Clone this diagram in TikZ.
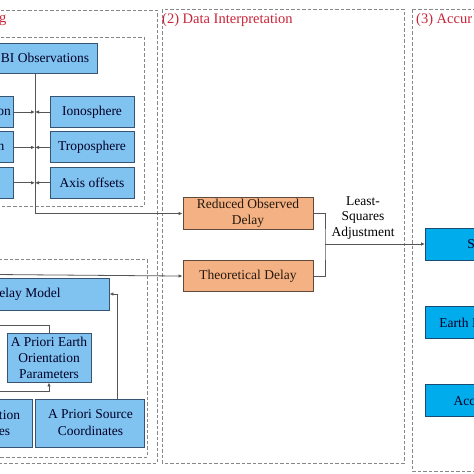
\documentclass[tikz,border=0pt]{standalone}
\usepackage{fontspec}
\setmainfont{Liberation Serif}
\usepackage{tikz}
\usetikzlibrary{arrows.meta,calc,positioning}
\definecolor{boxblue}{RGB}{128,194,240}
\definecolor{boxline}{RGB}{55,85,115}
\definecolor{resblue}{RGB}{0,172,236}
\definecolor{resline}{RGB}{25,75,115}
\definecolor{boxorange}{RGB}{244,177,131}
\definecolor{orangeline}{RGB}{95,75,60}
\definecolor{titlered}{RGB}{200,35,55}
\definecolor{conn}{RGB}{85,85,85}
\definecolor{frame}{RGB}{135,135,135}

\begin{document}
\begin{tikzpicture}[x=1pt, y=-1pt,
bluenode/.style={rectangle, draw=boxline, fill=boxblue, line width=0.9pt, text=black!85!blue, font=\fontsize{13.5}{16}\selectfont, align=center, minimum height=31pt, inner sep=2pt},
resnode/.style={rectangle, draw=resline, fill=resblue, line width=0.9pt, text=black!85!blue, font=\fontsize{13.5}{16}\selectfont, minimum height=32pt, inner sep=2pt},
orangenode/.style={rectangle, draw=orangeline, fill=boxorange, line width=0.9pt, text=black!80!brown, font=\fontsize{13.5}{16}\selectfont, align=center, minimum width=130pt, minimum height=31pt, inner sep=2pt},
titlenode/.style={anchor=west, text=titlered, font=\fontsize{14.5}{17}\selectfont, inner sep=0pt},
panelframe/.style={draw=frame, line width=0.8pt, dash pattern=on 3.5pt off 2pt},
link/.style={draw=conn, line width=0.8pt},
arrowlink/.style={link, -{Latex[length=4pt,width=3.5pt]}},
]
\useasboundingbox (0,0) rectangle (474,474);

%Frames
\draw[panelframe] (-5,10) rectangle (157,463);
\draw[panelframe] (-5,37) rectangle (144,206);
\draw[panelframe] (-5,259) rectangle (147,457);
\draw[panelframe] (162,9) rectangle (404,463);
\draw[panelframe] (412,9) rectangle (480,471);

%Titles
\node[titlenode] (title1) at (-1,20) {g};
\node[titlenode] (title2) at (162,20) {(2) Data Interpretation};
\node[titlenode] (title3) at (416,20) {(3) Accur};

%Nodes
\node[bluenode, minimum width=104pt, minimum height=30pt] (vlbi) at (45,58) {BI Observations};
\node[bluenode, minimum width=84pt] (iono) at (92,112) {Ionosphere};
\node[bluenode, minimum width=84pt] (tropo) [below=3.5pt of iono] {Troposphere};
\node[bluenode, minimum width=84pt] (axis) [below=3.5pt of tropo] {Axis offsets};
\node[bluenode, minimum width=18pt] (corr1) [left=36pt of iono] {on};
\node[bluenode, minimum width=24pt] (corr2) [left=36pt of tropo] {n};
\node[bluenode, minimum width=34pt] (corr3) [left=36pt of axis] {};

\node[bluenode, minimum width=158pt, minimum height=32pt] (dm) at (30,294) {elay Model};
\node[bluenode, minimum width=84pt, minimum height=49pt] (eop) at (49,357.5) {A Priori Earth\\Orientation\\Parameters};
\node[bluenode, minimum width=45pt, minimum height=48pt, align=left] (stn) at (9.5,423) {tion\\es};
\node[bluenode, minimum width=109pt, minimum height=48pt, font=\fontsize{13.5}{17}\selectfont] (src) [right=3pt of stn] {A Priori Source\\Coordinates};

\node[orangenode] (reduced) at (248,213.5) {Reduced Observed\\Delay};
\node[orangenode] (theo) [below=30pt of reduced] {Theoretical Delay};
\node[align=center, font=\fontsize{13.5}{15.5}\selectfont] (lsqtext) at (363,218) {Least-\\Squares\\Adjustment};

\node[resnode, minimum width=91.5pt, anchor=west] (res1) at (425,244) {S};
\node[resnode, minimum width=65pt] (res2) [below=46pt of res1.south west, anchor=north west] {Earth I};
\node[resnode, minimum width=78pt] (res3) [below=45pt of res2.south west, anchor=north west] {Acc};

%Connectors
\coordinate (trunk) at (35,213.5);
\coordinate (lsq) at (325,244);
\coordinate (theoin) at (-5,274.5);
\coordinate (eopin) at (-5,391);
\coordinate (eopout) at (-5,325);

\draw[arrowlink] (vlbi.south -| trunk) |- (reduced.west);
\foreach \c/\r in {corr1/iono, corr2/tropo, corr3/axis} {
  \draw[arrowlink] (\c.east) -- (\c.east -| trunk);
  \draw[arrowlink] (\r.west) -- (\r.west -| trunk);
}
\draw[arrowlink] (theoin) -- (theo.west);
\draw[link] (reduced.east) -| (lsq) |- (theo.east);
\draw[arrowlink] (lsq) -- (res1.west);
\draw[arrowlink] (eopin) -| (eop.south);
\draw[link] (eop.north) |- (eopout);
\draw[arrowlink] ($(src.north east)!0.25!(src.north west)$) |- (dm.east);
\end{tikzpicture}
\end{document}
